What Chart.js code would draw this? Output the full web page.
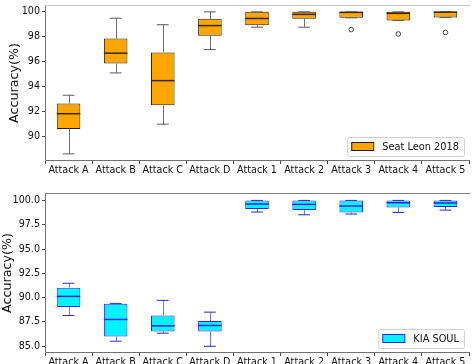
<!DOCTYPE html>
<html>
<head>
<meta charset="utf-8">
<script src="https://cdn.jsdelivr.net/npm/chart.js@4"></script>
<style>
  html, body { margin: 0; padding: 0; background: #fff; width: 474px; height: 364px; overflow: hidden; }
  canvas { position: absolute; left: 0; }
  #seatChart { top: 0; }
  #kiaChart { top: 182px; }
</style>
</head>
<body>
<canvas id="seatChart" width="474" height="182"></canvas>
<canvas id="kiaChart" width="474" height="200"></canvas>
<script>
const categories = ['Attack A', 'Attack B', 'Attack C', 'Attack D', 'Attack 1', 'Attack 2', 'Attack 3', 'Attack 4', 'Attack 5'];

// Seat Leon 2018 box statistics
const seatMin = [88.62, 95.11, 91.0, 96.98, 98.77, 98.77, 99.52, 99.31, 99.55];
const seatQ1 = [90.62, 95.86, 92.51, 98.09, 98.93, 99.44, 99.52, 99.31, 99.55];
const seatMedian = [91.84, 96.69, 94.49, 98.9, 99.47, 99.8, 99.96, 99.88, 99.98];
const seatQ3 = [92.65, 97.86, 96.75, 99.44, 100, 100, 100, 100, 100];
const seatMax = [93.32, 99.49, 98.97, 100, 100, 100, 100, 100, 100];
const seatOutliers = [null, null, null, null, null, null, 98.58, 98.23, 98.35];
const seatTicks = [90, 92, 94, 96, 98, 100];

// KIA SOUL box statistics
const kiaMin = [88.17, 85.52, 86.35, 85.0, 98.8, 98.52, 98.6, 98.76, 99.0];
const kiaQ1 = [89.03, 86.0, 86.52, 86.52, 99.11, 99.0, 98.76, 99.28, 99.32];
const kiaMedian = [90.13, 87.76, 87.1, 87.14, 99.63, 99.59, 99.42, 99.76, 99.73];
const kiaQ3 = [91.02, 89.38, 88.17, 87.59, 100, 100, 100, 100, 100];
const kiaMax = [91.48, 89.41, 89.72, 88.51, 100, 100, 100, 100, 100];
const kiaOutliers = [null, null, null, null, null, null, null, null, null];
const kiaTicks = [85, 87.5, 90, 92.5, 95, 97.5, 100];

const FONT = 'DejaVu Sans';

function makeBoxChart(id, opts) {
    const boxPlugin = {
        id: 'boxParts',
        afterDatasetsDraw(chart) {
            const ctx = chart.ctx;
            const y = chart.scales.y;
            const meta = chart.getDatasetMeta(0);
            ctx.save();
            meta.data.forEach((bar, i) => {
                const { x, width } = bar.getProps(['x', 'width'], true);
                const capHalf = width / 4;
                const yMin = y.getPixelForValue(opts.min[i]);
                const yMax = y.getPixelForValue(opts.max[i]);
                const yQ1 = y.getPixelForValue(opts.q1[i]);
                const yQ3 = y.getPixelForValue(opts.q3[i]);
                const yMed = y.getPixelForValue(opts.median[i]);
                const cx = Math.round(x) + 0.5;
                // whiskers
                ctx.strokeStyle = opts.whiskerColor;
                ctx.lineWidth = 1;
                ctx.beginPath();
                ctx.moveTo(cx, yQ3); ctx.lineTo(cx, yMax);
                ctx.moveTo(cx, yQ1); ctx.lineTo(cx, yMin);
                ctx.stroke();
                // caps
                ctx.strokeStyle = opts.capColor;
                ctx.beginPath();
                ctx.moveTo(x - capHalf, yMax); ctx.lineTo(x + capHalf, yMax);
                ctx.moveTo(x - capHalf, yMin); ctx.lineTo(x + capHalf, yMin);
                ctx.stroke();
                // median
                ctx.strokeStyle = opts.medianColor;
                ctx.lineWidth = 1.5;
                ctx.beginPath();
                ctx.moveTo(x - width / 2, yMed); ctx.lineTo(x + width / 2, yMed);
                ctx.stroke();
            });
            // frame (right side falls just outside the page, as in the cropped figure)
            const a = chart.chartArea;
            ctx.lineWidth = 1;
            ctx.strokeStyle = opts.frameColor;
            ctx.beginPath();
            ctx.moveTo(a.left + 0.5, a.top + 0.5);
            ctx.lineTo(a.left + 0.5, a.bottom - 0.5);
            ctx.lineTo(a.right + 1, a.bottom - 0.5);
            ctx.stroke();
            ctx.strokeStyle = opts.topColor;
            ctx.beginPath();
            ctx.moveTo(a.left + 0.5, a.top + 0.5);
            ctx.lineTo(a.right + 1, a.top + 0.5);
            ctx.stroke();

            // legend in lower right
            ctx.font = '9.8px "' + FONT + '"';
            const label = chart.data.datasets[0].label;
            const tw = ctx.measureText(label).width;
            const bw = 4 + 22 + 9 + tw + 5;
            const bh = 19;
            const bx = a.right - 5 - bw;
            const by = a.bottom - 5 - bh;
            ctx.fillStyle = 'rgba(255,255,255,0.8)';
            ctx.strokeStyle = '#d0d0d0';
            ctx.beginPath();
            ctx.roundRect(bx + 0.5, by + 0.5, bw, bh, 2);
            ctx.fill();
            ctx.stroke();
            ctx.fillStyle = opts.fill;
            ctx.fillRect(bx + 4.5, by + 5.5, 22, 8);
            ctx.strokeStyle = opts.edge;
            ctx.strokeRect(bx + 4.5, by + 5.5, 22, 8);
            ctx.fillStyle = '#111';
            ctx.textBaseline = 'middle';
            ctx.textAlign = 'left';
            ctx.fillText(label, bx + 35, by + bh / 2 + 1);
            ctx.restore();
        }
    };

    const ctx = document.getElementById(id).getContext('2d');
    return new Chart(ctx, {
        type: 'bar',
        data: {
            labels: categories,
            datasets: [{
                label: opts.label,
                data: opts.q1.map((v, i) => [v, opts.q3[i]]),
                backgroundColor: opts.fill,
                borderColor: opts.edge,
                borderWidth: 1,
                borderSkipped: false,
                categoryPercentage: 1,
                barPercentage: 0.5
            }, {
                type: 'line',
                label: 'outliers',
                data: opts.outliers,
                showLine: false,
                pointRadius: 2.3,
                pointBorderWidth: 1,
                pointBorderColor: '#444',
                pointBackgroundColor: 'rgba(255,255,255,0)'
            }]
        },
        options: {
            responsive: false,
            animation: false,
            events: [],
            layout: { padding: { top: opts.padTop, left: 0, right: 0, bottom: 0 } },
            plugins: { legend: { display: false }, tooltip: { enabled: false } },
            scales: {
                x: {
                    grid: { display: true, drawOnChartArea: false, drawTicks: true, tickLength: 3, color: '#444' },
                    border: { display: false },
                    ticks: { font: { family: FONT, size: 9.6 }, color: '#111', padding: 1, maxRotation: 0, autoSkip: false },
                    afterFit(scale) { scale.height = opts.xHeight; scale.paddingLeft = 0; scale.paddingRight = 0; }
                },
                y: {
                    min: opts.yMin,
                    max: opts.yMax,
                    afterBuildTicks(scale) { scale.ticks = opts.ticks.map(v => ({ value: v })); },
                    grid: { display: true, drawOnChartArea: false, drawTicks: true, tickLength: 3, color: '#444' },
                    border: { display: false },
                    ticks: {
                        font: { family: FONT, size: 9.6 }, color: '#111', padding: 2,
                        callback: opts.tickFormat
                    },
                    title: {
                        display: true, text: 'Accuracy(%)', color: '#111',
                        font: { family: FONT, size: 12.7 }, padding: { top: opts.titlePad, bottom: 0 }
                    },
                    afterFit(scale) { scale.width = 45; scale.paddingTop = 0; scale.paddingBottom = 0; }
                }
            }
        },
        plugins: [boxPlugin]
    });
}

makeBoxChart('seatChart', {
    label: 'Seat Leon 2018',
    min: seatMin, q1: seatQ1, median: seatMedian, q3: seatQ3, max: seatMax, outliers: seatOutliers,
    ticks: seatTicks, yMin: 88.05, yMax: 100.55,
    tickFormat: v => String(v),
    fill: '#ffa500', edge: '#2b1d00', medianColor: '#3a2800',
    whiskerColor: '#6e6e6e', capColor: '#5a5a5a', frameColor: '#707070', topColor: '#c8c8c8',
    padTop: 0, xHeight: 21, titlePad: 7
});

makeBoxChart('kiaChart', {
    label: 'KIA SOUL',
    min: kiaMin, q1: kiaQ1, median: kiaMedian, q3: kiaQ3, max: kiaMax, outliers: kiaOutliers,
    ticks: kiaTicks, yMin: 84.31, yMax: 100.76,
    tickFormat: v => Number(v).toFixed(1),
    fill: '#00f4ff', edge: '#2a2ae6', medianColor: '#2626d6',
    whiskerColor: '#7a74dc', capColor: '#2a2ab4', frameColor: '#707070', topColor: '#808080',
    padTop: 11, xHeight: 29, titlePad: 0
});
</script>
</body>
</html>
